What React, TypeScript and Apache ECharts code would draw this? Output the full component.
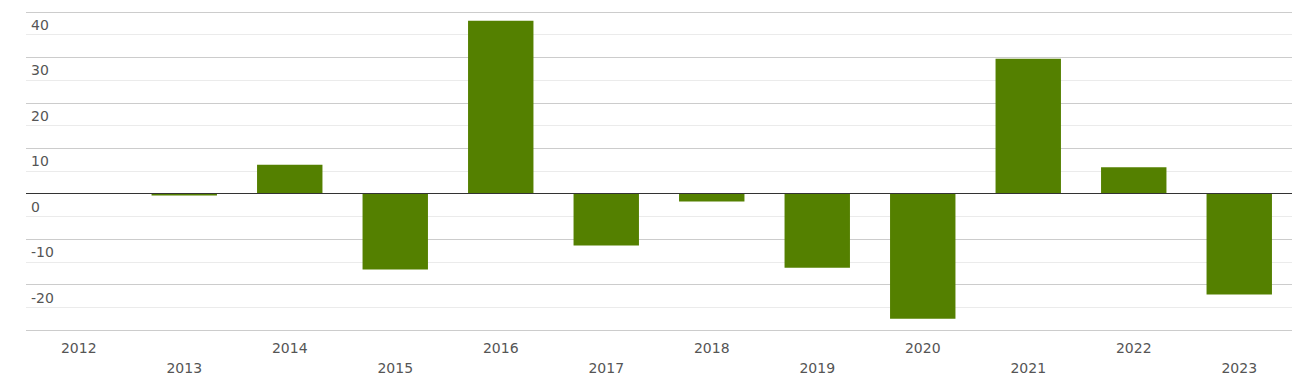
import React, { useEffect, useRef } from "react";
import * as echarts from "echarts";

const years = ["2012", "2013", "2014", "2015", "2016", "2017", "2018", "2019", "2020", "2021", "2022", "2023"];
const values = [0, -0.4, 6.4, -16.7, 38.1, -11.4, -1.7, -16.3, -27.5, 29.7, 5.8, -22.2];
const yMin = -30;
const yMax = 40;
const yStep = 10;

export default function App() {
  const ref = useRef<HTMLDivElement>(null);
  useEffect(() => {
    if (!ref.current) return;
    const chart = echarts.init(ref.current, null, { renderer: "svg" });
    chart.setOption({
      animation: false,
      textStyle: { fontFamily: "DejaVu Sans" },
      grid: { left: 26, right: 1, top: 12, bottom: 54, containLabel: false },
      xAxis: {
        type: "category",
        data: years,
        axisLine: { show: false },
        axisTick: { show: false },
        axisLabel: {
          interval: 0,
          color: "#555",
          fontSize: 14,
          lineHeight: 20,
          verticalAlign: "top",
          margin: 8,
          formatter: (v: string, i: number) => (i % 2 === 1 ? "\n" + v : v),
        },
      },
      yAxis: {
        type: "value",
        min: yMin,
        max: yMax,
        interval: yStep,
        axisLine: { show: false },
        axisTick: { show: false },
        splitLine: { show: true, lineStyle: { color: "#cccccc", width: 1 } },
        minorTick: { show: false, splitNumber: 2 },
        minorSplitLine: { show: true, lineStyle: { color: "#ebebeb", width: 1 } },
        axisLabel: {
          inside: true,
          margin: 5,
          color: "#555",
          fontSize: 14,
          verticalAlign: "top",
          padding: [6, 0, 0, 0],
          formatter: (v: number) => (v === yMin ? "" : String(v)),
        },
      },
      series: [
        {
          type: "bar",
          data: values,
          barWidth: "62%",
          itemStyle: { color: "#548000" },
          markLine: {
            silent: true,
            symbol: "none",
            label: { show: false },
            lineStyle: { color: "#333", width: 1, type: "solid" },
            data: [{ yAxis: 0 }],
          },
        },
      ],
    });
    return () => chart.dispose();
  }, []);
  return <div ref={ref} style={{ width: 1293, height: 384, position: "absolute", left: 0, top: 0 }} />;
}
